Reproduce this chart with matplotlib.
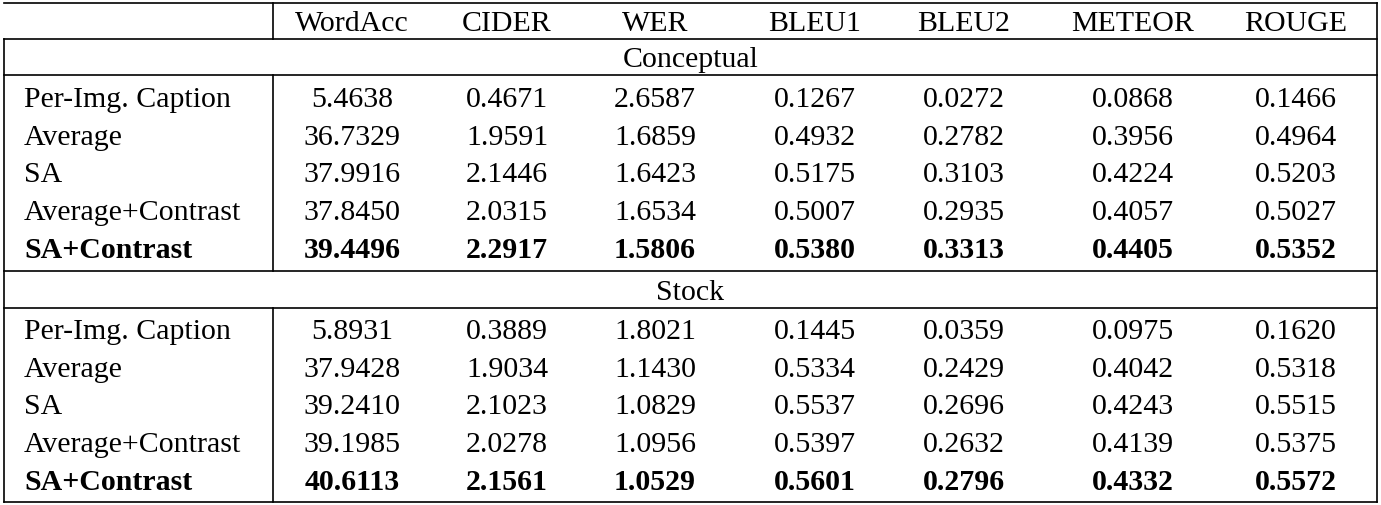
import matplotlib
matplotlib.use("Agg")
import matplotlib.pyplot as plt

columns = ["WordAcc", "CIDER", "WER", "BLEU1", "BLEU2", "METEOR", "ROUGE"]
methods = ["Per-Img. Caption", "Average", "SA", "Average+Contrast", "SA+Contrast"]
conceptual = [
    ["5.4638", "0.4671", "2.6587", "0.1267", "0.0272", "0.0868", "0.1466"],
    ["36.7329", "1.9591", "1.6859", "0.4932", "0.2782", "0.3956", "0.4964"],
    ["37.9916", "2.1446", "1.6423", "0.5175", "0.3103", "0.4224", "0.5203"],
    ["37.8450", "2.0315", "1.6534", "0.5007", "0.2935", "0.4057", "0.5027"],
    ["39.4496", "2.2917", "1.5806", "0.5380", "0.3313", "0.4405", "0.5352"],
]
stock = [
    ["5.8931", "0.3889", "1.8021", "0.1445", "0.0359", "0.0975", "0.1620"],
    ["37.9428", "1.9034", "1.1430", "0.5334", "0.2429", "0.4042", "0.5318"],
    ["39.2410", "2.1023", "1.0829", "0.5537", "0.2696", "0.4243", "0.5515"],
    ["39.1985", "2.0278", "1.0956", "0.5397", "0.2632", "0.4139", "0.5375"],
    ["40.6113", "2.1561", "1.0529", "0.5601", "0.2796", "0.4332", "0.5572"],
]
bold_row = "SA+Contrast"

plt.rcParams["font.family"] = ["Liberation Serif", "DejaVu Serif"]
fig = plt.figure(figsize=(13.81, 5.06), dpi=100)
ax = fig.add_axes([0, 0, 1, 1])
ax.set_xlim(0, 1381)
ax.set_ylim(506, 0)
ax.axis("off")

fs = 21.5
dy = 2  # small nudge so text sits like the reference
col_x = [352, 507, 655, 815, 964, 1133, 1296]
left, split, right = 4, 273, 1377
lw = 1.2

# horizontal rules
for y in [4, 40, 76, 272, 309, 503]:
    ax.plot([left, right], [y, y], color="black", lw=lw)
# verticals
ax.plot([left, left], [40, 503], color="black", lw=lw)
ax.plot([right, right], [4, 503], color="black", lw=lw)
ax.plot([split, split], [4, 40], color="black", lw=lw)
ax.plot([split, split], [76, 272], color="black", lw=lw)
ax.plot([split, split], [309, 503], color="black", lw=lw)

for x, c in zip(col_x, columns):
    ax.text(x, 22 + dy, c, ha="center", va="center", fontsize=fs)

ax.text((left + right) / 2, 58 + dy, "Conceptual", ha="center", va="center", fontsize=fs)
ax.text((left + right) / 2, 291 + dy, "Stock", ha="center", va="center", fontsize=fs)

def draw_block(rows, y0):
    for i, (m, vals) in enumerate(zip(methods, rows)):
        y = y0 + dy + i * 37.6
        w = "bold" if m == bold_row else "normal"
        ax.text(24, y, m, ha="left", va="center", fontsize=fs, weight=w)
        for x, v in zip(col_x, vals):
            ax.text(x, y, v, ha="center", va="center", fontsize=fs, weight=w)

draw_block(conceptual, 98)
draw_block(stock, 330)

fig.savefig("out.png", dpi=100)
